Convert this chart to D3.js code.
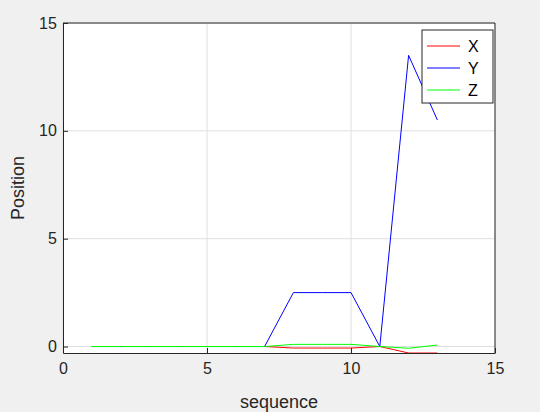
<!DOCTYPE html><html><head><script src="https://cdn.jsdelivr.net/npm/d3@7"></script>
<style>body{margin:0;background:#f0f0f0}text{font-family:Arial,"Liberation Sans",sans-serif}</style></head><body>
<svg id="c" width="540" height="412"></svg>
<script>
const seq=[1,2,3,4,5,6,7,8,9,10,11,12,13];
const X=[0,0,0,0,0,0,0,-0.07,-0.07,-0.07,0,-0.3,-0.3];
const Y=[0,0,0,0,0,0,0,2.5,2.5,2.5,0,13.5,10.5];
const Z=[0,0,0,0,0,0,0,0.1,0.1,0.1,0,-0.08,0.07];
const xTicks=[0,5,10,15], yTicks=[0,5,10,15];
const series=[{n:"X",v:X,c:"#ff0000"},{n:"Y",v:Y,c:"#0000ff"},{n:"Z",v:Z,c:"#00ff00"}];
const svg=d3.select("#c");
const L=63,R=495,T=23,B=353;
const x=d3.scaleLinear().domain([0,15]).range([L,R]);
const y=d3.scaleLinear().domain([-0.3,15]).range([B,T]);
svg.append("rect").attr("x",L).attr("y",T).attr("width",R-L).attr("height",B-T).attr("fill","#fff");
const g=svg.append("g");
xTicks.forEach(t=>g.append("line").attr("x1",x(t)).attr("x2",x(t)).attr("y1",T).attr("y2",B).attr("stroke","#dfdfdf"));
yTicks.forEach(t=>g.append("line").attr("y1",y(t)).attr("y2",y(t)).attr("x1",L).attr("x2",R).attr("stroke","#dfdfdf"));
const line=d3.line().x((d,i)=>x(seq[i])).y(d=>y(d));
series.forEach(s=>svg.append("path").attr("d",line(s.v)).attr("fill","none").attr("stroke",s.c).attr("stroke-width",1));
const xa=svg.append("g").attr("transform",`translate(0,${B})`).call(d3.axisBottom(x).tickValues(xTicks).tickSize(-5).tickSizeOuter(0));
const ya=svg.append("g").attr("transform",`translate(${L},0)`).call(d3.axisLeft(y).tickValues(yTicks).tickSize(-5).tickSizeOuter(0));
[xa,ya].forEach(a=>{a.select(".domain").attr("stroke","#262626");a.selectAll(".tick line").attr("stroke","#262626");a.selectAll("text").attr("font-size",16).attr("fill","#262626").style("font-family","Arial,'Liberation Sans',sans-serif");});
xa.selectAll("text").attr("dy","1.1em");ya.selectAll("text").attr("dx","-0.2em");
svg.append("line").attr("x1",L).attr("x2",R).attr("y1",T).attr("y2",T).attr("stroke","#262626");
svg.append("line").attr("x1",R).attr("x2",R).attr("y1",T).attr("y2",B).attr("stroke","#262626");
svg.append("text").attr("x",(L+R)/2).attr("y",408).attr("text-anchor","middle").attr("font-size",18).attr("fill","#262626").text("sequence");
svg.append("text").attr("transform",`translate(24,${(T+B)/2}) rotate(-90)`).attr("text-anchor","middle").attr("font-size",18).attr("fill","#262626").text("Position");
const lg=svg.append("g");
lg.append("rect").attr("x",422).attr("y",30).attr("width",71).attr("height",73).attr("fill","#fff").attr("stroke","#262626");
series.forEach((s,i)=>{const yy=46+i*22;
lg.append("line").attr("x1",427).attr("x2",460).attr("y1",yy).attr("y2",yy).attr("stroke",s.c);
lg.append("text").attr("x",468).attr("y",yy+6).attr("font-size",16).attr("fill","#000").text(s.n);});
</script></body></html>
